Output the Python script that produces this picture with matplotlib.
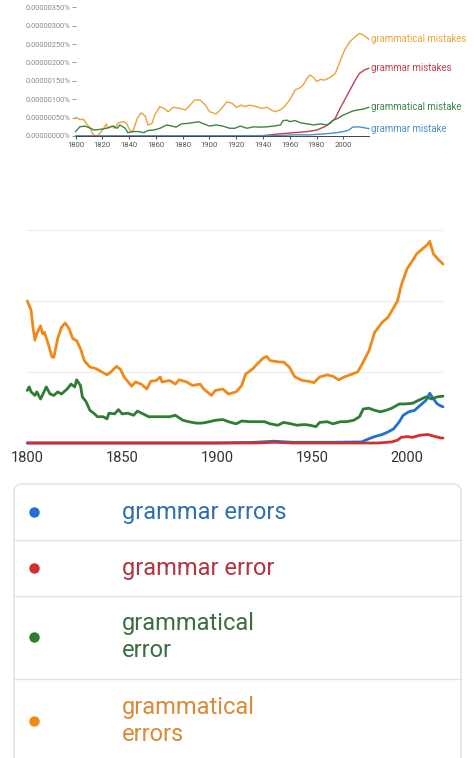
import matplotlib.pyplot as plt
from matplotlib.patches import FancyBboxPatch

plt.rcParams['font.family'] = ['Roboto', 'DejaVu Sans']

# ---- top chart data (values in units of 1e-8 %) ----
top_labels = ['grammatical mistakes', 'grammar mistakes', 'grammatical mistake', 'grammar mistake']
top_colors = ['#e9a43a', '#c0404f', '#3f8548', '#4a8fcc']

gms_years = [1800, 1803, 1806, 1808, 1811, 1813, 1816, 1818, 1821, 1823, 1824, 1827, 1829, 1832,
             1836, 1838, 1841, 1843, 1846, 1849, 1852, 1854, 1857, 1859, 1863, 1867, 1869, 1873,
             1878, 1882, 1885, 1889, 1893, 1897, 1900, 1905, 1909, 1913, 1917, 1920, 1924, 1926,
             1930, 1935, 1939, 1943, 1946, 1949, 1953, 1956, 1960, 1964, 1968, 1970, 1973, 1975,
             1978, 1980, 1983, 1986, 1990, 1994, 1997, 2001, 2005, 2009, 2012, 2015, 2019]
gms_vals = [51, 45, 45, 33, 21, 3, 0, 7, 21, 33, 21, 27, 21, 36,
            39, 34, 12, 15, 48, 63, 54, 30, 34, 57, 80, 73, 66, 78,
            75, 71, 82, 98, 98, 84, 66, 60, 75, 93, 89, 78, 84, 80,
            84, 80, 75, 78, 71, 66, 71, 80, 98, 125, 132, 139, 157, 166,
            159, 148, 154, 152, 159, 170, 198, 234, 257, 270, 279, 275, 263]

gmk_years = [1800, 1900, 1940, 1950, 1963, 1973, 1980, 1986, 1990, 1994, 1997, 2001, 2005, 2009,
             2012, 2016, 2019]
gmk_vals = [0, 0, 1, 5, 9, 12, 16, 25, 34, 48, 71, 98, 125, 152, 170, 180, 184]

gm1_years = [1800, 1803, 1807, 1811, 1814, 1818, 1823, 1828, 1831, 1833, 1837, 1839, 1843, 1847,
             1851, 1854, 1858, 1863, 1868, 1872, 1875, 1879, 1883, 1887, 1892, 1895, 1900, 1905,
             1910, 1915, 1919, 1923, 1928, 1933, 1938, 1943, 1948, 1953, 1955, 1958, 1960, 1964,
             1968, 1973, 1978, 1983, 1988, 1992, 1996, 2000, 2004, 2007, 2011, 2015, 2019]
gm1_vals = [12, 25, 27, 21, 16, 18, 21, 27, 21, 30, 21, 9, 12, 12,
            9, 15, 16, 21, 30, 27, 24, 33, 34, 36, 39, 34, 27, 30,
            27, 21, 21, 27, 21, 25, 24, 25, 27, 30, 42, 43, 39, 42,
            36, 33, 30, 33, 30, 42, 48, 57, 63, 68, 71, 73, 78]

gk1_years = [1800, 1950, 1963, 1975, 1983, 1990, 1995, 2000, 2004, 2007, 2011, 2015, 2019]
gk1_vals = [0, 1, 3, 3, 5, 7, 9, 12, 16, 24, 25, 23, 20]

top_series = [(gms_years, gms_vals), (gmk_years, gmk_vals), (gm1_years, gm1_vals), (gk1_years, gk1_vals)]

# ---- big chart data (relative units, gridline = 1) ----
big_labels = ['grammar errors', 'grammar error', 'grammatical\nerror', 'grammatical\nerrors']
big_colors = ['#1f6fd6', '#d32f2f', '#2e7d32', '#ef8a17']
text_colors = ['#2f6fae', '#b2343f', '#3b6f3f', '#d98b35']

ges_years = [1800, 1900, 1920, 1930, 1940, 1960, 1976, 1980, 1983, 1987, 1990, 1993, 1996, 1998,
             2001, 2004, 2007, 2010, 2012, 2014, 2016, 2018, 2019]
ges_vals = [0.0, 0.0, 0.01, 0.025, 0.01, 0.01, 0.015, 0.06, 0.09, 0.12, 0.155, 0.20, 0.30, 0.39,
            0.44, 0.46, 0.53, 0.60, 0.70, 0.62, 0.55, 0.52, 0.51]

ge_years = [1800, 1920, 1930, 1940, 1985, 1992, 1995, 1997, 2000, 2003, 2007, 2011, 2015, 2018, 2019]
ge_vals = [0.0, 0.0, 0.01, 0.0, 0.0, 0.015, 0.04, 0.08, 0.09, 0.08, 0.11, 0.12, 0.09, 0.07, 0.07]

gle_years = [1800, 1801, 1802, 1804, 1805, 1807, 1810, 1812, 1814, 1816, 1818, 1821, 1823, 1825,
             1826, 1828, 1829, 1831, 1833, 1835, 1837, 1840, 1842, 1843, 1846, 1848, 1850, 1853,
             1856, 1858, 1861, 1864, 1868, 1871, 1875, 1878, 1882, 1885, 1889, 1892, 1896, 1899,
             1903, 1906, 1910, 1913, 1917, 1920, 1925, 1928, 1932, 1935, 1939, 1942, 1946, 1949,
             1952, 1954, 1958, 1961, 1965, 1968, 1972, 1975, 1977, 1980, 1983, 1986, 1989, 1992,
             1996, 1999, 2003, 2006, 2010, 2013, 2016, 2019]
gle_vals = [0.74, 0.79, 0.72, 0.67, 0.72, 0.62, 0.79, 0.69, 0.67, 0.72, 0.69, 0.76, 0.83, 0.79,
            0.89, 0.81, 0.65, 0.58, 0.46, 0.42, 0.37, 0.37, 0.34, 0.42, 0.41, 0.47, 0.41, 0.42,
            0.39, 0.45, 0.41, 0.37, 0.37, 0.37, 0.37, 0.39, 0.32, 0.30, 0.28, 0.28, 0.30, 0.32,
            0.33, 0.30, 0.27, 0.31, 0.30, 0.30, 0.30, 0.27, 0.25, 0.29, 0.27, 0.25, 0.26, 0.25,
            0.23, 0.29, 0.30, 0.27, 0.30, 0.30, 0.32, 0.37, 0.48, 0.49, 0.46, 0.44, 0.46, 0.49,
            0.55, 0.55, 0.56, 0.60, 0.65, 0.62, 0.65, 0.66]

gles_years = [1800, 1802, 1803, 1804, 1805, 1807, 1808, 1809, 1811, 1813, 1814, 1816, 1818, 1820,
              1822, 1824, 1826, 1828, 1830, 1833, 1836, 1838, 1842, 1844, 1847, 1849, 1851, 1855,
              1857, 1860, 1863, 1865, 1868, 1870, 1871, 1875, 1878, 1880, 1884, 1887, 1891, 1893,
              1897, 1899, 1903, 1906, 1910, 1913, 1915, 1919, 1921, 1924, 1926, 1928, 1933, 1935,
              1938, 1941, 1945, 1948, 1951, 1954, 1958, 1961, 1964, 1967, 1970, 1974, 1976, 1980,
              1983, 1987, 1990, 1992, 1995, 1997, 2000, 2003, 2005, 2008, 2011, 2012, 2014, 2016,
              2019]
gles_vals = [2.00, 1.87, 1.63, 1.45, 1.54, 1.65, 1.54, 1.56, 1.40, 1.21, 1.21, 1.47, 1.63, 1.69,
             1.61, 1.47, 1.44, 1.33, 1.16, 1.07, 1.05, 1.02, 0.96, 1.00, 1.08, 1.04, 0.93, 0.80,
             0.86, 0.83, 0.76, 0.87, 0.88, 0.93, 0.86, 0.88, 0.83, 0.89, 0.86, 0.81, 0.83, 0.76,
             0.67, 0.74, 0.76, 0.69, 0.72, 0.81, 0.97, 1.05, 1.11, 1.19, 1.22, 1.16, 1.14, 1.14,
             1.07, 0.93, 0.88, 0.87, 0.85, 0.93, 0.96, 0.94, 0.89, 0.93, 0.96, 1.00, 1.09, 1.30,
             1.56, 1.70, 1.77, 1.86, 2.00, 2.22, 2.45, 2.57, 2.66, 2.73, 2.80, 2.84, 2.66, 2.60,
             2.52]

big_series = [(ges_years, ges_vals), (ge_years, ge_vals), (gle_years, gle_vals), (gles_years, gles_vals)]

W, H = 474, 758
fig = plt.figure(figsize=(W / 100, H / 100), dpi=100)

# ---- top (small) chart ----
ax1 = fig.add_axes([75.7 / W, 1 - 136 / H, 293 / W, 128.7 / H])
for (xs, ys), c in zip(top_series, top_colors):
    ax1.plot(xs, ys, color=c, lw=1.0, clip_on=False)
ax1.set_xlim(1800, 2019)
ax1.set_ylim(0, 350)
ax1.set_yticks(range(0, 351, 50))
ax1.set_yticklabels([f'{v / 1e8:.8f}%' for v in range(0, 351, 50)], fontsize=5.4, color='#666666')
ax1.set_xticks(range(1800, 2001, 20))
ax1.tick_params(axis='x', labelsize=5.6, colors='#555555', length=2, pad=2.5)
ax1.tick_params(axis='y', length=3, width=0.6, colors='#888888', pad=1)
for s in ['top', 'right', 'left']:
    ax1.spines[s].set_visible(False)
ax1.spines['bottom'].set_color('#444444')
ax1.spines['bottom'].set_linewidth(0.7)
for (xs, ys), c, lab in zip(top_series, top_colors, top_labels):
    ax1.annotate(lab, (xs[-1], ys[-1]), xytext=(2, 0), textcoords='offset points',
                 color=c, fontsize=6.9, va='center', annotation_clip=False)

# ---- big chart ----
ax2 = fig.add_axes([27.3 / W, 1 - 443 / H, 415.7 / W, 213 / H])
for (xs, ys), c in zip(big_series, big_colors):
    ax2.plot(xs, ys, color=c, lw=2.0, solid_capstyle='round', solid_joinstyle='round', clip_on=False)
ax2.set_xlim(1800, 2019)
ax2.set_ylim(0, 3)
ax2.set_yticks([1, 2, 3])
ax2.set_yticklabels([])
ax2.grid(axis='y', color='#ececec', lw=0.8)
ax2.set_axisbelow(True)
ax2.set_xticks([1800, 1850, 1900, 1950, 2000])
ax2.tick_params(axis='x', labelsize=10.5, colors='#333333', length=0, pad=6)
ax2.tick_params(axis='y', length=0)
for s in ax2.spines.values():
    s.set_visible(False)

# ---- legend table ----
ax3 = fig.add_axes([0, 0, 1, 1])
ax3.set_xlim(0, W)
ax3.set_ylim(H, 0)
ax3.axis('off')
ax3.add_patch(FancyBboxPatch((14, 484), 447, 300, boxstyle='round,pad=0,rounding_size=8',
                             fc='white', ec='#e0e0e0', lw=1.0))
for yy in [540, 596, 679]:
    ax3.plot([14, 461], [yy, yy], color='#e3e3e3', lw=1.0)
row_y = [512, 568, 637, 721]
for lab, dc, tc, yy in zip(big_labels, big_colors, text_colors, row_y):
    ax3.plot(34, yy, 'o', ms=6.5, color=dc)
    ax3.text(122, yy, lab, color=tc, fontsize=17, va='center', ha='left', linespacing=1.2)

fig.savefig('out.png', dpi=100)
